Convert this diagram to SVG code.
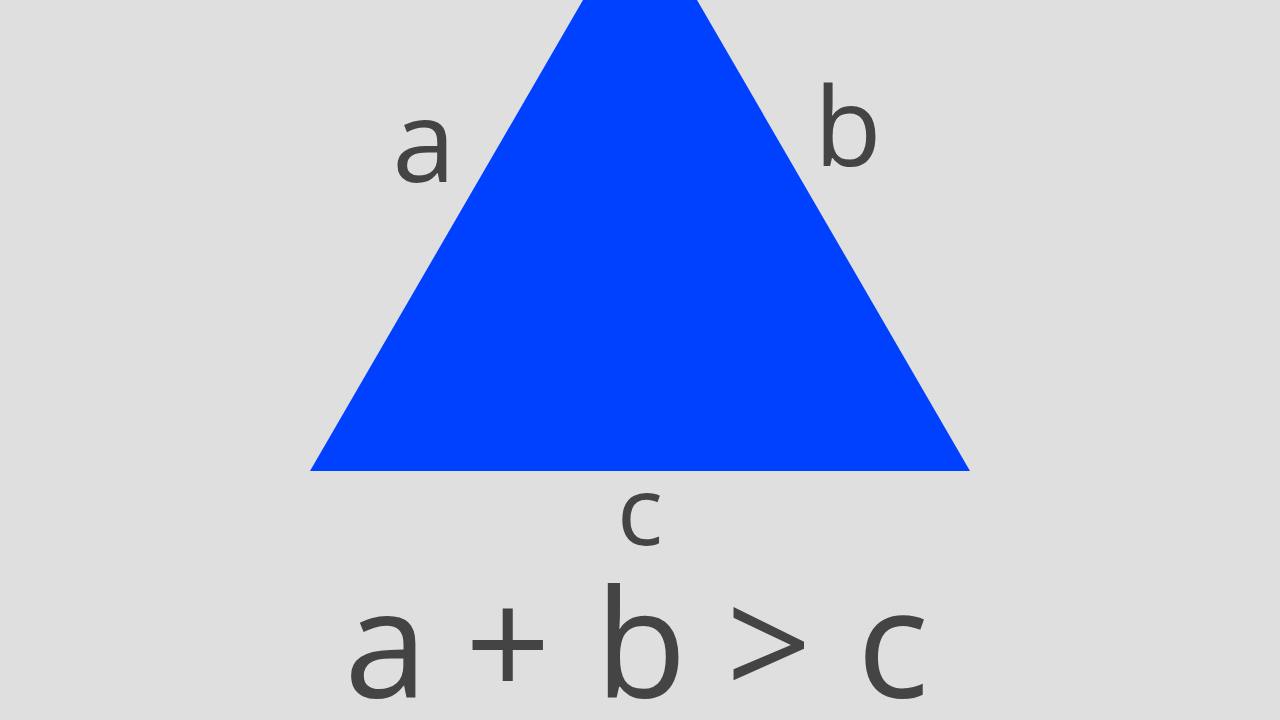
<svg xmlns="http://www.w3.org/2000/svg" width="1280" height="720" viewBox="0 0 1280 720">
<style>
.lbl{font-family:"Open Sans","Noto Sans","Liberation Sans",sans-serif;fill:#444444;text-anchor:middle}
</style>
<rect width="1280" height="720" fill="#DFDFDF"/>
<g id="triangle">
<polygon points="310,471 970,471 697,0 583,0" fill="#0040FF"/>
</g>
<g id="labels">
<text class="lbl" x="424" y="182" font-size="114">a</text>
<text class="lbl" x="848" y="166" font-size="110">b</text>
<text class="lbl" x="640" y="545" font-size="96">c</text>
</g>
<g id="equation">
<text class="lbl" x="386 446 508 575 641 705 769 831 893" y="698" font-size="150">a + b &gt; c</text>
</g>
</svg>
